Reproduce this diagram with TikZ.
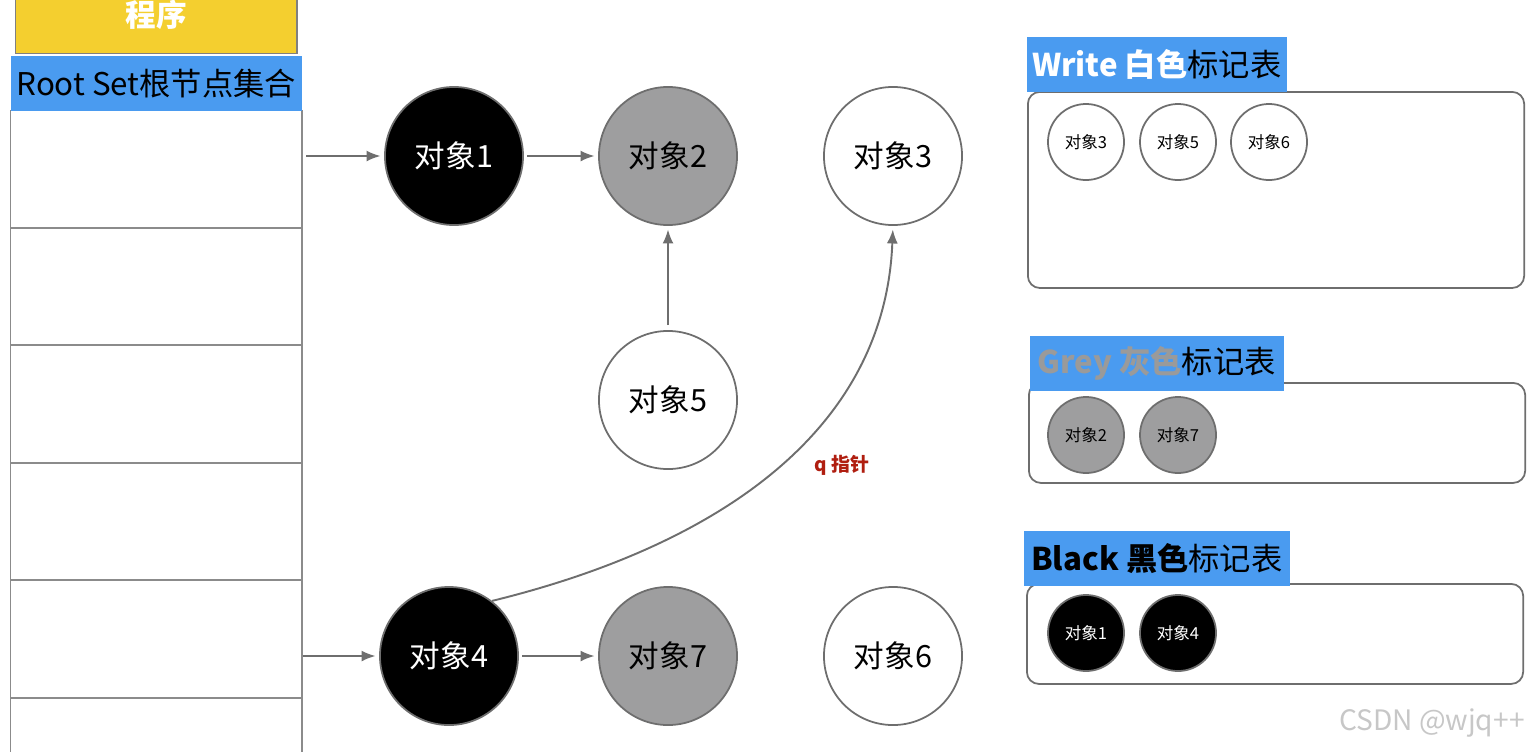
\documentclass[tikz,border=0pt]{standalone}
\usepackage{fontspec}
\setmainfont{Noto Sans CJK SC}
\usetikzlibrary{arrows.meta,positioning}
\definecolor{hdrblue}{HTML}{4A9BF0}
\definecolor{progyellow}{HTML}{F4CF2F}
\definecolor{objgrey}{HTML}{9E9E9F}
\definecolor{linegrey}{HTML}{6E6E6E}
\definecolor{qred}{HTML}{B01E10}
\definecolor{txtgrey}{HTML}{9A9A9A}
\begin{document}
\begin{tikzpicture}[x=0.01cm,y=-0.01cm,>={Latex[length=1.4mm,width=1.1mm]},
  bigobj/.style={circle,draw=linegrey,line width=0.5pt,minimum size=1.38cm,inner sep=0pt,font=\fontsize{8.7}{10}\selectfont},
  smallobj/.style={circle,draw=linegrey,line width=0.5pt,minimum size=0.76cm,inner sep=0pt,font=\fontsize{4.7}{5}\selectfont},
  whiteobj/.style={fill=white,text=black},
  greyobj/.style={fill=objgrey,text=black},
  blackobj/.style={fill=black,text=white},
  header/.style={fill=hdrblue,anchor=north west,minimum height=0.55cm,inner sep=0pt,font=\fontsize{8.9}{10}\selectfont},
  panel/.style={draw=linegrey,line width=0.5pt,rounded corners=0.12cm,anchor=north west,minimum width=4.96cm},
  conn/.style={->,draw=linegrey,line width=0.55pt}]
\useasboundingbox (0,0) rectangle (1530,751);
% left column
\node[draw=gray,fill=progyellow,anchor=north west,minimum width=2.81cm,minimum height=0.78cm,inner sep=0pt,font=\fontsize{8.7}{10}\selectfont\bfseries,text=white] (prog) at (15,-25) {程序};
\node[draw=linegrey!80,line width=0.4pt,anchor=north west,minimum width=2.91cm,minimum height=6.5cm] (rootset) at (10,110) {};
\foreach \y in {228,345,463,580,698} \draw[linegrey!80,line width=0.4pt] (10,\y) -- (301,\y);
\node[header,minimum width=2.91cm] (roothdr) at (10,55) {Root Set根节点集合};
% objects
\node[bigobj,blackobj] (o1) at (454,156) {对象1};
\node[bigobj,greyobj] (o2) at (668,156) {对象2};
\node[bigobj,whiteobj] (o3) at (893,156) {对象3};
\node[bigobj,whiteobj] (o5) at (668,400) {对象5};
\node[bigobj,blackobj] (o4) at (449,656) {对象4};
\node[bigobj,greyobj] (o7) at (668,656) {对象7};
\node[bigobj,whiteobj] (o6) at (893,656) {对象6};
\draw[conn,shorten <=1pt,shorten >=1pt] (rootset.east |- o1) -- (o1);
\draw[conn,shorten <=1pt,shorten >=1pt] (o1) -- (o2);
\draw[conn,shorten <=1.4pt,shorten >=1pt] (o5) -- (o2);
\draw[conn,shorten >=1pt] (rootset.east |- o4) -- (o4);
\draw[conn,shorten <=1pt,shorten >=1pt] (o4) -- (o7);
\draw[conn,shorten >=1pt] (o4.52) .. controls (720,545) and (885,430) .. (o3.south);
\node[text=qred,font=\fontsize{5.4}{6}\selectfont\bfseries] (qlbl) at (842,465) {q 指针};
% mark tables
\node[panel,minimum height=1.96cm] (wpanel) at (1027,91) {};
\node[header,minimum width=2.6cm] (whdr) at (1026,36) {{\bfseries\color{white}Write 白色}标记表};
\node[smallobj,whiteobj] (w3) at (1086,142) {对象3};
\node[smallobj,whiteobj] (w5) at (1178,142) {对象5};
\node[smallobj,whiteobj] (w6) at (1269,142) {对象6};
\node[panel,minimum height=1.0cm] (gpanel) at (1028,382) {};
\node[header,minimum width=2.54cm] (ghdr) at (1029,335) {{\bfseries\color{txtgrey}Grey 灰色}标记表};
\node[smallobj,greyobj] (g2) at (1086,435) {对象2};
\node[smallobj,greyobj] (g7) at (1178,435) {对象7};
\node[panel,minimum height=1.0cm] (bpanel) at (1026,583) {};
\node[header,minimum width=2.66cm] (bhdr) at (1023,530) {{\bfseries Black 黑色}标记表};
\node[smallobj,blackobj] (b1) at (1086,633) {对象1};
\node[smallobj,blackobj] (b4) at (1178,633) {对象4};
\node[text=black!22,font=\fontsize{8}{9}\selectfont] (mark) at (1432,723) {CSDN @wjq++};
\end{tikzpicture}
\end{document}
